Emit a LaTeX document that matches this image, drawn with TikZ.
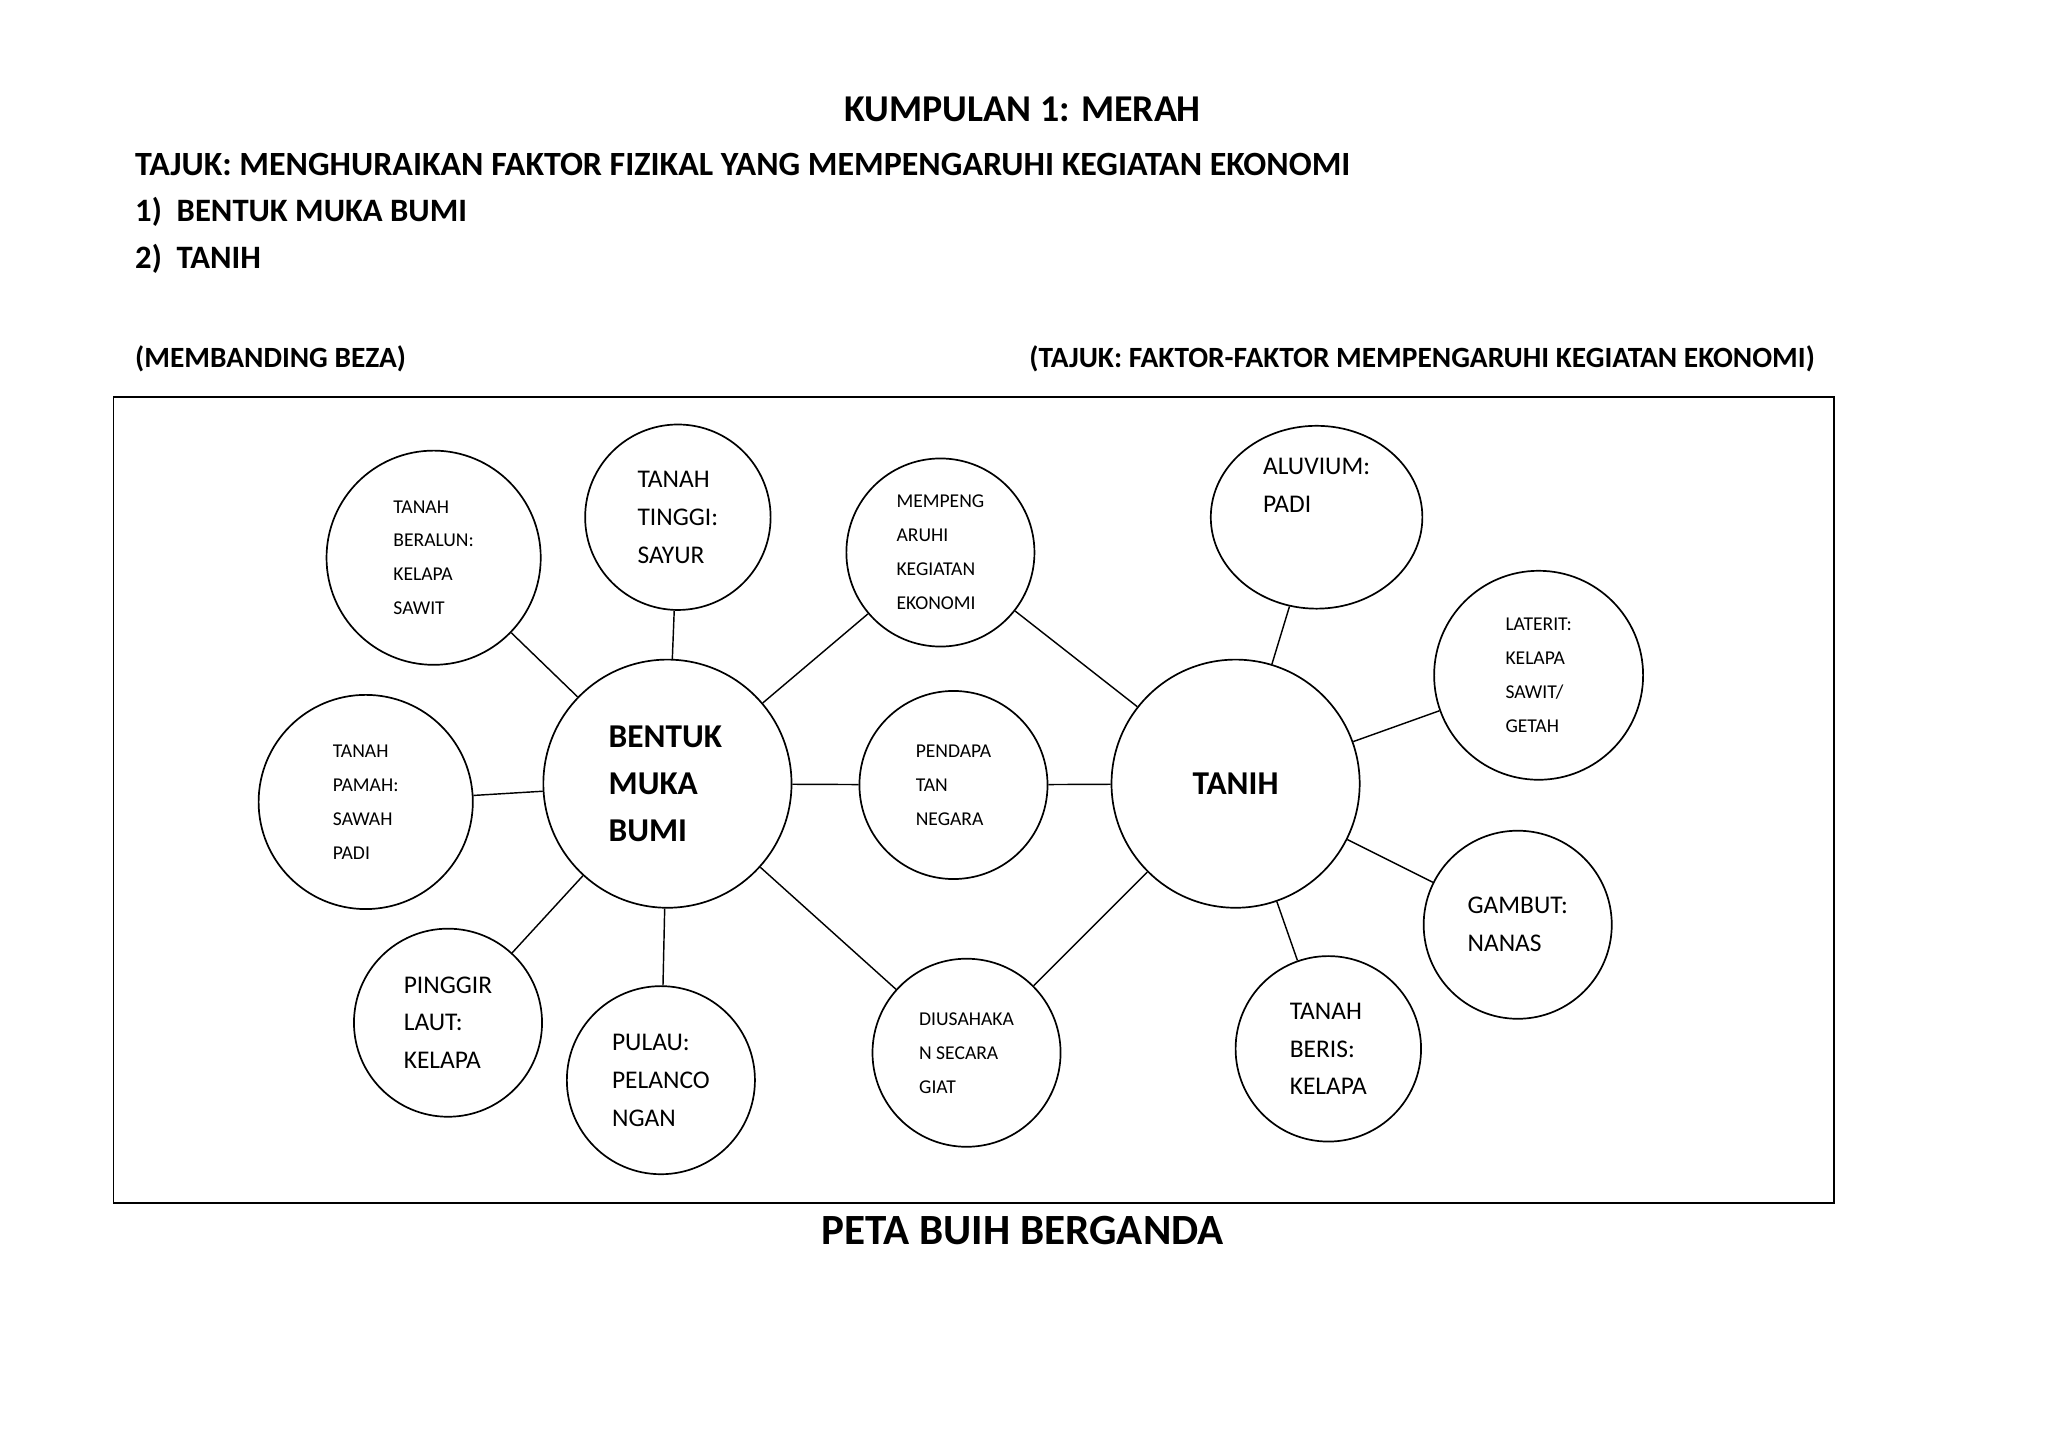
\documentclass[tikz,border=0pt]{standalone}
\usepackage{fontspec}
\setmainfont{Carlito}
\usetikzlibrary{shapes.geometric}
\begin{document}
\begin{tikzpicture}[x=1pt,y=-1pt,
 bub/.style={circle,draw,line width=1.3pt,inner sep=0pt,align=left},
 sm/.style={font=\fontsize{15}{26}\selectfont},
 md/.style={font=\fontsize{19.5}{29}\selectfont},
 big/.style={font=\fontsize{25.5}{36}\selectfont\bfseries},
 ln/.style={line width=1.1pt}]
\useasboundingbox (0,0) rectangle (1568,1109);
\fill[white] (0,0) rectangle (1568,1109);
\node[font=\fontsize{29}{32}\selectfont\bfseries] at (783,84) {KUMPULAN 1: MERAH};
\node[anchor=west,font=\fontsize{26}{30}\selectfont\bfseries] at (100,126) {TAJUK: MENGHURAIKAN FAKTOR FIZIKAL YANG MEMPENGARUHI KEGIATAN EKONOMI};
\node[anchor=west,font=\fontsize{25}{28}\selectfont\bfseries] at (100,162) {1)\ \ BENTUK MUKA BUMI};
\node[anchor=west,font=\fontsize{25}{28}\selectfont\bfseries] at (100,198) {2)\ \ TANIH};
\node[anchor=west,font=\fontsize{22.5}{26}\selectfont\bfseries] at (100,275) {(MEMBANDING BEZA)};
\node[anchor=east,font=\fontsize{22.5}{26}\selectfont\bfseries] at (1393,275) {(TAJUK: FAKTOR-FAKTOR MEMPENGARUHI KEGIATAN EKONOMI)};
\draw[line width=1.3pt] (87,304) rectangle (1404,921);
\node[font=\fontsize{33}{36}\selectfont\bfseries] at (783,942) {PETA BUIH BERGANDA};

\node[bub,big,minimum size=190pt] (bmb) at (511,600) {BENTUK\\MUKA\\BUMI\hspace*{30pt}};
\node[bub,big,minimum size=190pt] (tanih) at (946,600) {TANIH};
\node[bub,sm,minimum size=164pt] (beralun) at (332,427) {TANAH\\BERALUN:\\KELAPA\\SAWIT\hspace*{20pt}};
\node[bub,md,minimum size=142pt] (tinggi) at (519,396) {TANAH\\TINGGI:\\SAYUR};
\node[bub,sm,minimum size=144pt] (mpg) at (720,423) {MEMPENG\\ARUHI\\KEGIATAN\\EKONOMI};
\node[ellipse,draw,line width=1.3pt,inner sep=0pt,align=left,md,minimum width=162pt,minimum height=140pt] (aluvium) at (1008,396) {ALUVIUM:\\PADI\hspace*{40pt}\\[20pt]};
\node[bub,sm,minimum size=160pt] (laterit) at (1178,517) {LATERIT:\\KELAPA\\SAWIT/\\GETAH};
\node[bub,md,minimum size=144pt] (gambut) at (1162,708) {GAMBUT:\\NANAS};
\node[bub,md,minimum size=142pt] (beris) at (1017,803) {TANAH\\BERIS:\\KELAPA};
\node[bub,sm,minimum size=144pt] (usaha) at (740,806) {DIUSAHAKA\\N SECARA\\GIAT\hspace*{35pt}};
\node[bub,sm,minimum size=144pt] (pendapatan) at (730,601) {PENDAPA\\TAN\\NEGARA};
\node[bub,sm,minimum size=164pt] (pamah) at (280,614) {TANAH\\PAMAH:\\SAWAH\\PADI\hspace*{20pt}};
\node[bub,md,minimum size=144pt] (pinggir) at (343,783) {PINGGIR\\LAUT:\\KELAPA};
\node[bub,md,minimum size=144pt] (pulau) at (506,827) {PULAU:\\PELANCO\\NGAN};

\foreach \n in {beralun,tinggi,mpg,pendapatan,usaha,pamah,pinggir,pulau}
  \draw[ln] (bmb) -- (\n);
\foreach \n in {aluvium,laterit,gambut,beris,mpg,pendapatan,usaha}
  \draw[ln] (tanih) -- (\n);
\end{tikzpicture}
\end{document}
